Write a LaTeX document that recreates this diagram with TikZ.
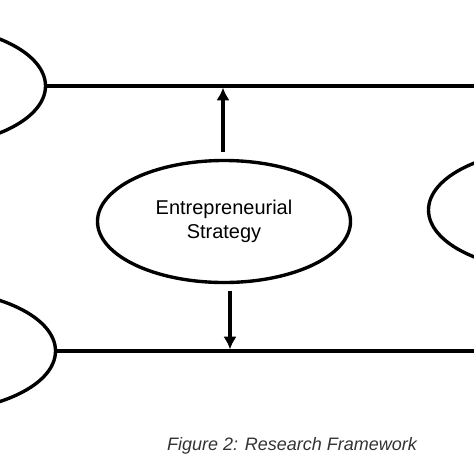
\documentclass[tikz,border=0pt]{standalone}
\usepackage{fontspec}
\setmainfont{Liberation Sans}
\usetikzlibrary{shapes.geometric,arrows.meta}

\begin{document}
\begin{tikzpicture}[x=0.025cm,y=-0.025cm]
    \tikzstyle{construct}=[ellipse,draw=black,line width=2.4pt,minimum width=253*0.025cm,minimum height=122*0.025cm,inner sep=0pt,align=center,font=\fontsize{14.2}{17}\selectfont]
    \tikzstyle{link}=[draw=black,line width=2.6pt]
    \tikzstyle{arrow}=[link,-{Latex[length=9pt,width=9.5pt]},shorten >=1.2pt,shorten <=5pt]
    \tikzstyle{caption}=[text=black!80,font=\fontsize{12.8}{15}\selectfont\itshape]

    \clip (0,0) rectangle (474,474);
    % the four constructs (three of them run off the frame)
    \node[construct] (C-11) at (-81,86) {};
    \node[construct] (C-12) at (-71,351) {};
    \node[construct] (S) at (224,221.5) {Entrepreneurial\\Strategy};
    \node[construct] (C-2) at (555,210) {};

    % free ends of the two relations
    \coordinate (R-1) at (480,86);
    \coordinate (R-2) at (480,351);
    \coordinate (M-1) at (223,86);
    \coordinate (M-2) at (230,351);

    \draw[link] (C-11.east) -- (R-1);
    \draw[link] (C-12.east) -- (R-2);
    % moderating arrows
    \draw[arrow] (S.north -| M-1) -- (M-1);
    \draw[arrow] (S.south -| M-2) -- (M-2);

    % Caption
    \node[caption] (cap) at (292,446) {Figure 2: Research Framework};
\end{tikzpicture}
\end{document}
